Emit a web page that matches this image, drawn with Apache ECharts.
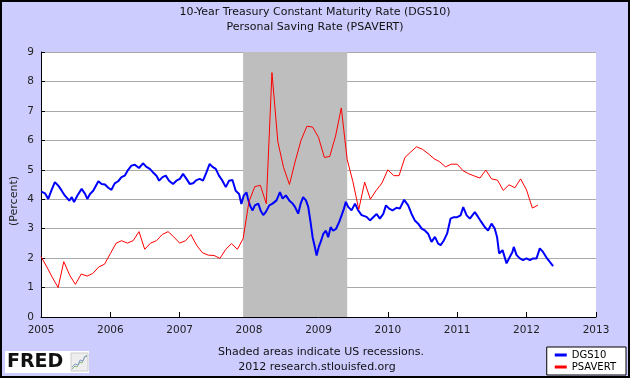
<!DOCTYPE html>
<html>
<head>
<meta charset="utf-8">
<script src="https://cdn.jsdelivr.net/npm/echarts@6/dist/echarts.min.js"></script>
<style>html,body{margin:0;padding:0;}#c{width:630px;height:378px;}</style>
</head>
<body>
<div id="c"></div>
<script>
const titleLines = ['10-Year Treasury Constant Maturity Rate (DGS10)', 'Personal Saving Rate (PSAVERT)'];
const footLines = ['Shaded areas indicate US recessions.', '2012 research.stlouisfed.org'];
const yTicks = [0, 9, 1];
const xRange = ['2005-01-01', '2013-01-01'];
const recession = ['2007-12-01', '2009-06-01'];

const dgsDates = ['2005-01-03','2005-01-22','2005-02-08','2005-02-26','2005-03-15','2005-03-24','2005-04-02','2005-04-20','2005-05-07','2005-05-30','2005-06-12','2005-06-24','2005-07-11','2005-08-03','2005-08-21','2005-09-02','2005-09-16','2005-10-03','2005-10-30','2005-11-16','2005-12-04','2005-12-21',
'2006-01-07','2006-01-24','2006-02-11','2006-03-01','2006-03-18','2006-04-04','2006-04-22','2006-05-10','2006-06-01','2006-06-22','2006-07-10','2006-07-28','2006-08-14','2006-09-01','2006-09-15','2006-10-03','2006-10-20','2006-11-06','2006-11-27','2006-12-15',
'2007-01-02','2007-01-19','2007-02-06','2007-02-23','2007-03-13','2007-03-30','2007-04-17','2007-05-04','2007-05-22','2007-06-08','2007-06-23','2007-07-10','2007-07-27','2007-08-14','2007-09-01','2007-09-18','2007-10-06','2007-10-23','2007-11-10','2007-11-22','2007-12-04','2007-12-19','2007-12-27',
'2008-01-06','2008-01-20','2008-02-01','2008-02-19','2008-03-02','2008-03-16','2008-03-30','2008-04-17','2008-05-04','2008-05-25','2008-06-12','2008-06-26','2008-07-13','2008-07-31','2008-08-18','2008-08-30','2008-09-16','2008-09-29','2008-10-12','2008-10-27','2008-11-08','2008-11-20','2008-12-01','2008-12-13','2008-12-22',
'2009-01-02','2009-01-12','2009-01-26','2009-02-09','2009-02-21','2009-03-06','2009-03-19','2009-04-03','2009-04-20','2009-05-03','2009-05-15','2009-05-25','2009-06-06','2009-06-24','2009-07-12','2009-07-29','2009-08-16','2009-09-11','2009-09-29','2009-10-16','2009-11-03','2009-11-20','2009-12-08','2009-12-22',
'2010-01-08','2010-01-26','2010-02-16','2010-03-05','2010-03-28','2010-04-18','2010-05-06','2010-05-23','2010-06-10','2010-06-28','2010-07-15','2010-08-01','2010-08-19','2010-09-06','2010-09-23','2010-10-06','2010-10-23','2010-11-09','2010-11-27','2010-12-15',
'2011-01-01','2011-01-19','2011-02-02','2011-02-20','2011-03-09','2011-04-04','2011-04-22','2011-05-09','2011-05-27','2011-06-13','2011-07-01','2011-07-18','2011-07-30','2011-08-10','2011-08-28','2011-09-18','2011-10-05','2011-10-19','2011-10-26','2011-11-10','2011-11-27','2011-12-14',
'2012-01-01','2012-01-19','2012-02-05','2012-02-23','2012-03-11','2012-03-28','2012-04-15','2012-05-03','2012-05-20'];
const dgsValues = [4.26,4.20,4.01,4.32,4.58,4.64,4.46,4.29,4.12,3.95,4.07,3.90,4.12,4.35,4.18,4.01,4.18,4.29,4.61,4.52,4.50,4.39,
4.32,4.54,4.61,4.75,4.80,4.99,5.14,5.17,5.06,5.22,5.10,5.03,4.91,4.80,4.63,4.75,4.80,4.63,4.52,4.63,
4.69,4.86,4.69,4.52,4.54,4.65,4.69,4.63,4.91,5.20,5.10,5.03,4.80,4.63,4.41,4.63,4.65,4.29,4.18,3.84,4.12,4.23,4.01,
3.79,3.62,3.79,3.85,3.62,3.46,3.57,3.79,3.85,3.96,4.24,4.02,4.13,3.96,3.85,3.74,3.51,3.85,4.07,3.96,3.74,3.23,2.71,2.37,2.09,
2.37,2.54,2.82,2.93,2.71,3.05,2.93,2.99,3.23,3.46,3.68,3.91,3.74,3.62,3.85,3.62,3.46,3.40,3.28,3.39,3.50,3.34,3.50,3.79,
3.68,3.62,3.71,3.68,3.98,3.79,3.50,3.28,3.17,3.00,2.94,2.83,2.55,2.72,2.49,2.44,2.60,2.83,3.34,3.39,
3.39,3.45,3.73,3.45,3.34,3.56,3.39,3.22,3.05,2.94,3.17,3.00,2.72,2.16,2.27,1.82,2.04,2.21,2.38,2.10,1.99,1.93,
1.99,1.93,1.99,1.99,2.33,2.21,2.02,1.87,1.73];

const psStart = [2005, 1];
const psValues = [2.05,1.70,1.35,1.00,1.88,1.42,1.11,1.46,1.39,1.48,1.70,1.79,
2.15,2.51,2.59,2.51,2.59,2.90,2.30,2.51,2.59,2.80,2.90,2.72,
2.51,2.59,2.80,2.43,2.18,2.10,2.09,1.99,2.30,2.49,2.30,2.66,
3.92,4.43,4.47,3.85,8.30,5.95,5.08,4.50,5.30,6.00,6.48,6.45,
6.10,5.42,5.45,6.15,7.10,5.35,4.60,3.65,4.58,4.00,4.30,4.55,
5.00,4.80,4.80,5.42,5.60,5.78,5.70,5.55,5.38,5.27,5.10,5.19,
5.19,4.97,4.87,4.79,4.72,4.99,4.69,4.65,4.30,4.49,4.39,4.69,
4.32,3.70,3.80];

function pad(n){return (n<10?'0':'')+n;}
const psDates = psValues.map(function(v,i){
  const m = psStart[1]-1+i;
  return (psStart[0]+Math.floor(m/12)) + '-' + pad(m%12+1) + '-01';
});

const FONT = 'DejaVu Sans';
const chart = echarts.init(document.getElementById('c'), null, {renderer:'canvas'});
const option = {
  backgroundColor: '#ccccff',
  animation: false,
  textStyle: {fontFamily: FONT},
  grid: {left: 41, right: 34, top: 52, bottom: 61, show: true, backgroundColor: '#ffffff', borderWidth: 0},
  xAxis: {
    type: 'time', min: xRange[0], max: xRange[1],
    minInterval: 365*864e5, maxInterval: 366*864e5,
    axisLine: {lineStyle: {color: '#000', width: 1}},
    axisTick: {show: true, inside: true, length: 5, lineStyle: {color: '#000'}},
    axisLabel: {formatter: '{yyyy}', color: '#222', fontSize: 10.5, margin: 8, showMinLabel: true, showMaxLabel: true, fontFamily: FONT},
    splitLine: {show: false}
  },
  yAxis: {
    type: 'value', min: yTicks[0], max: yTicks[1], interval: yTicks[2],
    axisLine: {show: true, lineStyle: {color: '#000', width: 1}},
    axisTick: {show: true, inside: true, length: 4, lineStyle: {color: '#000'}},
    axisLabel: {color: '#222', fontSize: 10.5, margin: 7, fontFamily: FONT},
    splitLine: {show: true, lineStyle: {color: '#aaaaaa', width: 1}}
  },
  legend: {
    data: ['DGS10', 'PSAVERT'], orient: 'vertical', right: 4, bottom: 3,
    backgroundColor: '#ffffff', borderColor: '#000', borderWidth: 1, borderRadius: 0,
    padding: [3, 10, 3, 8], itemGap: 2, itemWidth: 12, itemHeight: 3, icon: 'rect',
    textStyle: {fontSize: 10, color: '#000', fontFamily: FONT}
  },
  series: [
    {name: 'recession', type: 'line', data: [], z: 1, silent: true,
     markArea: {silent: true, itemStyle: {color: '#bebebe', opacity: 1}, data: [[{xAxis: recession[0]}, {xAxis: recession[1]}]]}},
    {name: 'DGS10', type: 'line', z: 3, showSymbol: false, symbol: 'none', color: '#0000ff',
     lineStyle: {color: '#0000ff', width: 2}, data: dgsDates.map(function(d,i){return [d, dgsValues[i]];})},
    {name: 'PSAVERT', type: 'line', z: 4, showSymbol: false, symbol: 'none', color: '#ff0000',
     lineStyle: {color: '#ff0000', width: 1}, data: psDates.map(function(d,i){return [d, psValues[i]];})}
  ],
  graphic: [
    {type: 'text', left: 'center', top: 7, style: {text: titleLines[0], font: '11px "DejaVu Sans"', fill: '#111'}},
    {type: 'text', left: 'center', top: 22, style: {text: titleLines[1], font: '11px "DejaVu Sans"', fill: '#111'}},
    {type: 'text', x: 14, y: 201, rotation: Math.PI/2, style: {text: '(Percent)', font: '11px "DejaVu Sans"', fill: '#222', align: 'center', verticalAlign: 'middle'}},
    {type: 'text', x: 321, y: 352, style: {text: footLines[0], font: '11px "DejaVu Sans"', fill: '#111', align: 'center', verticalAlign: 'middle'}},
    {type: 'text', x: 317, y: 367, style: {text: footLines[1], font: '11px "DejaVu Sans"', fill: '#111', align: 'center', verticalAlign: 'middle'}},
    {type: 'rect', shape: {x: 5, y: 351, width: 84, height: 22}, style: {fill: '#ffffff'}},
    {type: 'text', x: 7, y: 362, style: {text: 'FRED', font: 'bold 19px "DejaVu Sans"', fill: '#111', verticalAlign: 'middle'}},
    {type: 'rect', shape: {x: 71, y: 353, width: 17, height: 18}, style: {fill: '#eeeeee', stroke: '#cccccc', lineWidth: 1}},
    {type: 'polyline', shape: {points: [[72,369],[75,366],[77,367],[80,362],[82,363],[84,358],[87,355]]}, style: {stroke: '#7fb27f', lineWidth: 1, fill: null}},
    {type: 'polyline', shape: {points: [[72,367],[75,364],[78,365],[80,360],[83,361],[85,356],[87,357]]}, style: {stroke: '#8899cc', lineWidth: 1, fill: null}},
    {type: 'rect', shape: {x: 1, y: 1, width: 628, height: 376}, style: {fill: null, stroke: '#000', lineWidth: 2}, z: 100}
  ]
};
chart.setOption(option);
</script>
</body>
</html>
